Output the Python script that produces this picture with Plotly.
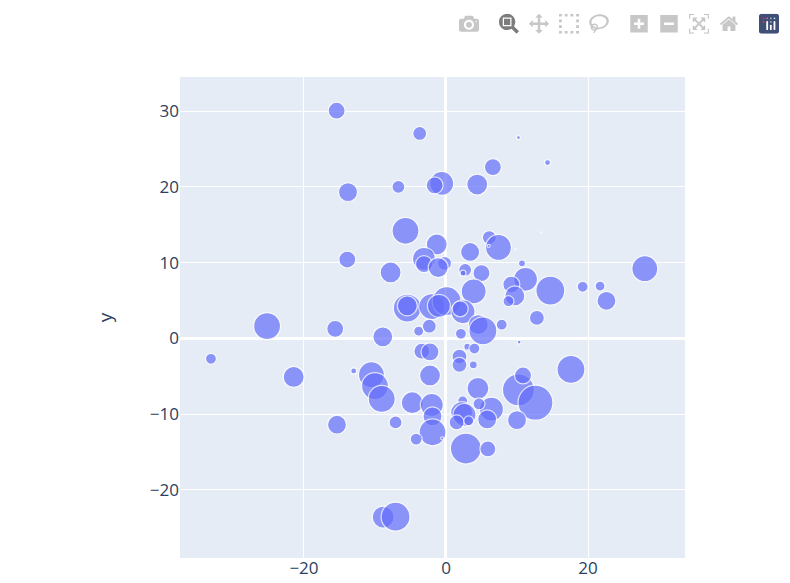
import plotly.graph_objects as go

x_values = [-15.4, -3.7, 10.2, 14.3, 6.6, -0.6, -1.6, 4.4, -6.7, -13.8, -5.7, 13.4, -1.3, 6.1, 7.4, 6.0,
            3.4, 9.8, 10.7, -13.9, -3.1, -3.1, -0.2, -1.1, -7.8, 2.7, 2.4, 5.0, 11.2, 9.2, 3.9, 14.7,
            19.25, 21.7, 28.0, 22.6, 9.7, 8.8, -5.45, -5.45, -2.0, 0.1, -1.0, 2.4, 2.0, 4.55, 5.2, 7.85,
            12.8, -2.35, -3.85, 2.1, 10.3, -8.9, 3.0, 4.0, -3.4, -2.25, 1.9, 1.9, 3.85, -2.25, -25.2, -15.6,
            -33.1, -13.0, -21.45, -10.5, -10.0, -9.05, -4.75, -7.1, -15.35, 17.6, 4.5, 10.2, 10.85, 12.6,
            10.0, 6.4, 4.65, 5.8, 2.35, 2.2, 2.6, 1.5, 3.2, -2.0, -1.9, -1.9, -4.2, -0.55, 2.8, 5.9, -8.85, -7.1]
y_values = [30.05, 27.05, 26.5, 23.2, 22.6, 20.45, 20.2, 20.3, 20.0, 19.3, 14.2, 14.1, 12.4, 13.3, 12.0, 12.2,
            11.4, 11.8, 9.9, 10.4, 10.5, 9.8, 9.9, 9.35, 8.7, 9.05, 8.6, 8.6, 7.8, 7.1, 6.2, 6.3,
            6.8, 6.9, 9.2, 4.95, 5.6, 4.9, 4.0, 4.3, 4.2, 4.9, 4.3, 3.5, 3.9, 1.8, 1.0, 1.8,
            2.7, 1.6, 0.95, 0.6, -0.5, 0.2, -1.1, -1.35, -1.7, -1.8, -2.4, -3.5, -3.5, -4.9, 1.6, 1.25,
            -2.7, -4.3, -5.1, -4.8, -6.3, -8.0, -8.5, -11.1, -11.4, -4.1, -6.6, -6.8, -4.9, -8.5,
            -10.8, -9.35, -8.65, -10.7, -8.25, -9.8, -10.1, -11.1, -10.9, -8.8, -10.3, -12.4, -13.3, -13.2, -14.55, -14.6, -23.6, -23.55]
bubble_sizes = [17, 14, 4, 6, 17, 24, 17, 21, 13, 19, 27, 2, 21, 14, 26, 3,
                19, 1.5, 7, 17, 23, 17, 14, 20, 21, 13, 6, 17, 24, 17, 25, 29,
                11, 10, 26, 19, 20, 11, 28, 20, 26, 29, 23, 24, 16, 20, 28, 11,
                15, 14, 10, 11, 4, 20, 7, 11, 16, 18, 15, 15, 8, 21, 27, 17,
                11, 6, 21, 26, 27, 27, 22, 13, 19, 28, 22, 32, 17, 35,
                19, 24, 12, 19, 10, 22, 23, 15, 10, 23, 19, 27, 12, 3, 31, 16, 22, 29]

fig = go.Figure(go.Scatter(
    x=x_values, y=y_values, mode="markers",
    marker=dict(size=bubble_sizes, sizemode="diameter", sizeref=1, color="#636efa",
                opacity=0.7, line=dict(color="white", width=1.25)),
))
fig.update_layout(
    width=778, height=574,
    margin=dict(l=172, r=101, t=69, b=24),
    font=dict(size=17),
    showlegend=False,
)
fig.update_xaxes(range=[-37.46, 33.66], tickvals=[-20, 0, 20], automargin=False,
                 gridwidth=1.25, zerolinewidth=2.5, ticklabelstandoff=-2)
fig.update_yaxes(range=[-29.0, 34.5], tickvals=[-20, -10, 0, 10, 20, 30], automargin=False,
                 gridwidth=1.25, zerolinewidth=2.5,
                 title=dict(text="y", font=dict(size=19), standoff=32))
post = """
var s = document.createElement('style');
s.textContent = '.modebar{transform:scale(1.25);transform-origin:top right;}'
  + '.modebar-btn--logo svg path:first-of-type,.modebar-btn--logo svg rect{fill:#3f4f75 !important;}';
document.head.appendChild(s);
"""
fig.write_html("out.html", config={"displayModeBar": True}, post_script=post)
